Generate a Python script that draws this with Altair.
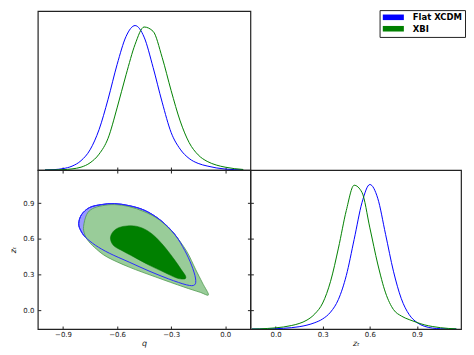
import altair as alt
import pandas as pd

# ---------------- data ----------------
series = ["Flat XCDM", "XBI"]
series_colors = ["#0000ff", "#008000"]

# 1D marginal of q (normalised to peak 1)
q_grid = [-1.00, -0.95, -0.90, -0.85, -0.80, -0.75, -0.70, -0.65, -0.60, -0.55, -0.50,
          -0.45, -0.40, -0.35, -0.30, -0.25, -0.20, -0.15, -0.10, -0.05, 0.00, 0.05, 0.10]
q_blue = [0.001, 0.003, 0.010, 0.027, 0.065, 0.14, 0.28, 0.49, 0.73, 0.925, 1.0,
          0.92, 0.71, 0.47, 0.26, 0.145, 0.08, 0.046, 0.028, 0.015, 0.007, 0.003, 0.001]
q_green = [0.0005, 0.001, 0.003, 0.008, 0.02, 0.05, 0.11, 0.22, 0.43, 0.66, 0.87,
           0.99, 0.96, 0.78, 0.55, 0.34, 0.19, 0.105, 0.06, 0.035, 0.02, 0.01, 0.004]

# 1D marginal of z_t
z_grid = [-0.15, -0.10, -0.05, 0.00, 0.05, 0.10, 0.15, 0.20, 0.25, 0.30, 0.35, 0.40, 0.45,
          0.50, 0.55, 0.60, 0.65, 0.70, 0.75, 0.80, 0.85, 0.90, 0.95, 1.00, 1.05, 1.10, 1.15]
z_blue = [0.0, 0.0, 0.0005, 0.002, 0.005, 0.009, 0.016, 0.027, 0.044, 0.07, 0.117, 0.205, 0.37,
          0.62, 0.875, 1.0, 0.905, 0.655, 0.40, 0.21, 0.10, 0.045, 0.018, 0.006, 0.002, 0.0005, 0.0]
z_green = [0.0, 0.001, 0.004, 0.008, 0.014, 0.024, 0.038, 0.062, 0.105, 0.18, 0.33, 0.56, 0.82,
           0.995, 0.945, 0.70, 0.45, 0.25, 0.135, 0.09, 0.065, 0.045, 0.028, 0.017, 0.009, 0.004, 0.001]

# 2D confidence contours (vertices in q, z_t)
blue95_q = [-0.813, -0.797, -0.753, -0.687, -0.615, -0.533, -0.445, -0.357, -0.280, -0.225, -0.187,
            -0.165, -0.170, -0.214, -0.313, -0.423, -0.533, -0.643, -0.720, -0.775, -0.802]
blue95_z = [0.730, 0.805, 0.864, 0.889, 0.897, 0.880, 0.839, 0.755, 0.638, 0.504, 0.379,
            0.270, 0.212, 0.212, 0.262, 0.329, 0.404, 0.479, 0.546, 0.613, 0.671]

green95_q = [-0.786, -0.769, -0.736, -0.681, -0.615, -0.533, -0.451, -0.368, -0.286, -0.214, -0.165,
             -0.126, -0.093, -0.140, -0.231, -0.385, -0.533, -0.654, -0.714, -0.758, -0.780]
green95_z = [0.705, 0.805, 0.855, 0.880, 0.889, 0.872, 0.830, 0.763, 0.646, 0.496, 0.345,
             0.228, 0.128, 0.150, 0.195, 0.278, 0.362, 0.446, 0.513, 0.579, 0.638]

green68_q = [-0.637, -0.621, -0.588, -0.544, -0.489, -0.434, -0.385, -0.330, -0.280, -0.242, -0.220,
             -0.225, -0.269, -0.341, -0.423, -0.505, -0.577, -0.621]
green68_z = [0.607, 0.663, 0.696, 0.709, 0.705, 0.671, 0.613, 0.521, 0.421, 0.337, 0.287,
             0.262, 0.270, 0.320, 0.379, 0.446, 0.504, 0.546]

q_ticks = [-0.9, -0.6, -0.3, 0.0]
z_ticks = [0.0, 0.3, 0.6, 0.9]

Q_DOM = [-1.04, 0.14]
Z_DOM = [-0.16, 1.18]
P_DOM = [0, 1.1]
W1, W2, H = 214, 212, 160

# ---------------- tables ----------------
df_q = pd.DataFrame({
    "x": q_grid * 2,
    "p": q_blue + q_green,
    "series": [series[0]] * len(q_grid) + [series[1]] * len(q_grid),
})
df_z = pd.DataFrame({
    "x": z_grid * 2,
    "p": z_blue + z_green,
    "series": [series[0]] * len(z_grid) + [series[1]] * len(z_grid),
})


def poly(qs, zs):
    return pd.DataFrame({"q": qs, "z": zs, "i": list(range(len(qs)))})


df_b95 = poly(blue95_q, blue95_z)
df_g95 = poly(green95_q, green95_z)
df_g68 = poly(green68_q, green68_z)

color_scale = alt.Scale(domain=series, range=series_colors)

qscale = alt.Scale(domain=Q_DOM, nice=False, zero=False)
zscale = alt.Scale(domain=Z_DOM, nice=False, zero=False)
pscale = alt.Scale(domain=P_DOM, nice=False, zero=False)

# ---------------- top-left: q marginal ----------------
tl = alt.Chart(df_q).mark_line(strokeWidth=1, clip=True, interpolate="monotone").encode(
    x=alt.X("x:Q", scale=qscale,
            axis=alt.Axis(values=q_ticks, labels=False, title=None, domain=False, grid=False,
                          offset=-3, tickSize=6)),
    y=alt.Y("p:Q", scale=pscale, axis=None),
    color=alt.Color("series:N", scale=color_scale, legend=None),
    detail="series:N",
).properties(width=W1, height=H)

# ---------------- top-right: legend only ----------------
# wide rectangular swatch, starting at the left of the symbol column
legend_path = "M-1,-0.7H4.3V0.7H-1Z"
tr = alt.Chart(pd.DataFrame({"series": series})).mark_point(
    filled=True, opacity=0, size=1).encode(
    x=alt.value(100), y=alt.value(80),
    color=alt.Color("series:N", scale=color_scale,
                    legend=alt.Legend(title=None, orient="none", legendX=130, legendY=-1,
                                      symbolType=legend_path, symbolSize=64,
                                      symbolOpacity=1, symbolStrokeWidth=0,
                                      labelFont="DejaVu Sans", labelFontSize=8.5,
                                      labelFontWeight="bold",
                                      labelColor="#000000", labelOffset=22,
                                      rowPadding=2.5, padding=3,
                                      strokeColor="#222222", fillColor="white")),
).properties(width=W2, height=H, view=alt.ViewBackground(strokeOpacity=0))

# ---------------- bottom-left: 2D contours ----------------
xq = alt.X("q:Q", scale=qscale,
           axis=alt.Axis(values=q_ticks, format=".1f", title="q", domain=False, grid=False,
                         offset=-3, tickSize=3, labelPadding=2, labelFlush=False,
                         titleFontStyle="italic", titlePadding=2))
yz = alt.Y("z:Q", scale=zscale,
           axis=alt.Axis(values=z_ticks, format=".1f", title="zₜ", domain=False, grid=False,
                         offset=-3, tickSize=3, labelPadding=4, labelFlush=False,
                         titleFontStyle="italic", titlePadding=5))
yn = alt.Y("z:Q", scale=zscale, axis=None)

b95_fill = alt.Chart(df_b95).mark_line(
    interpolate="cardinal-closed", fill="#9999ff", stroke="#0000ff", strokeWidth=1
).encode(x=xq, y=yz, order="i:Q")
g95_fill = alt.Chart(df_g95).mark_line(
    interpolate="cardinal-closed", fill="#99cc99", stroke="#4f9a4f", strokeWidth=0.8
).encode(x=xq, y=yn, order="i:Q")
g68_fill = alt.Chart(df_g68).mark_line(
    interpolate="cardinal-closed", fill="#008000", stroke="#007000", strokeWidth=0.5
).encode(x=xq, y=yn, order="i:Q")
b95_line = alt.Chart(df_b95).mark_line(
    interpolate="cardinal-closed", stroke="#2a2aff", strokeWidth=1
).encode(x=xq, y=yn, order="i:Q")
mirror = alt.Chart(df_b95).mark_line(opacity=0).encode(
    x=xq,
    y=alt.Y("z:Q", scale=zscale,
            axis=alt.Axis(orient="right", values=z_ticks, labels=False, title=None,
                          domain=False, grid=False, offset=-3, tickSize=6)),
    order="i:Q",
)
bl = alt.layer(b95_fill, g95_fill, g68_fill, b95_line, mirror).resolve_axis(
    y="independent").properties(width=W1, height=H)

# ---------------- bottom-right: z_t marginal ----------------
br = alt.Chart(df_z).mark_line(strokeWidth=1, clip=True, interpolate="monotone").encode(
    x=alt.X("x:Q", scale=zscale,
            axis=alt.Axis(values=z_ticks, format=".1f", title="zₜ", domain=False, grid=False,
                          offset=-3, tickSize=3, labelPadding=2, labelFlush=False,
                          titleFontStyle="italic", titlePadding=2)),
    y=alt.Y("p:Q", scale=pscale, axis=None),
    color=alt.Color("series:N", scale=color_scale, legend=None),
    detail="series:N",
).properties(width=W2, height=H)

chart = alt.concat(tl, tr, bl, br, columns=2, spacing=0, bounds="flush").resolve_legend(
    color="independent").resolve_scale(color="independent").properties(
    padding={"left": 1, "top": 0, "right": 0, "bottom": 0}
).configure_view(stroke="#222222", strokeWidth=1.2).configure_axis(
    labelFont="DejaVu Sans", labelFontSize=7, labelColor="#222222",
    titleFont="DejaVu Sans", titleFontSize=8, titleFontWeight="normal", titleColor="#222222",
    tickColor="#222222", tickWidth=1,
)

chart.save("out.html", embed_options={"renderer": "svg", "actions": False})
